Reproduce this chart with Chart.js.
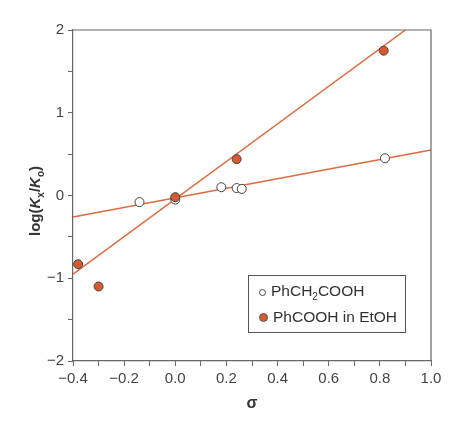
<!DOCTYPE html>
<html>
<head>
<meta charset="utf-8">
<script src="https://cdn.jsdelivr.net/npm/chart.js@4.4.1/dist/chart.umd.min.js"></script>
<style>
  html, body { margin: 0; padding: 0; background: #fff; }
  #wrap { position: relative; width: 455px; height: 427px; font-family: "Liberation Sans", Arial, sans-serif; }
  #yTitle {
    position: absolute; left: 36px; top: 201px;
    transform: translate(-50%, -50%) rotate(-90deg);
    font-weight: bold; font-size: 15px; color: #333; white-space: nowrap;
  }
  #yTitle sub { font-size: 10px; }
  #legend {
    position: absolute; left: 248px; top: 275px; width: 158px; height: 58px;
    border: 1px solid #555; box-sizing: border-box; color: #333; font-size: 15.5px;
  }
  .row { position: absolute; left: 10px; height: 18px; line-height: 18px; white-space: nowrap; }
  .row sub { font-size: 10px; line-height: 0; }
  .dot { display: inline-block; width: 7px; height: 7px; border-radius: 50%; box-sizing: border-box;
         border: 1px solid #444; margin-right: 5px; vertical-align: 0px; }
  .dot.filled { background: #d65a30; border-color: #555; width: 9px; height: 9px; }
</style>
</head>
<body>
<div id="wrap">
  <canvas id="hammettChart" width="455" height="427"></canvas>
  <div id="yTitle">log(<i>K</i><sub>x</sub>/<i>K</i><sub>o</sub>)</div>
  <div id="legend">
    <div class="row" style="top:6px"><span class="dot"></span>PhCH<sub>2</sub>COOH</div>
    <div class="row" style="top:32px"><span class="dot filled"></span>PhCOOH in EtOH</div>
  </div>
</div>
<script>
// Data
const acetSigma = [-0.14, 0.00, 0.18, 0.24, 0.26, 0.82];
const acetLogK = [-0.08, -0.05, 0.10, 0.09, 0.08, 0.45];
const benzSigma = [-0.38, -0.30, 0.00, 0.24, 0.815];
const benzLogK = [-0.83, -1.10, -0.02, 0.44, 1.75];

// Fitted lines (end points)
const acetFitX = [-0.4, 1.0];
const acetFitY = [-0.26, 0.55];
const benzFitX = [-0.4, 0.9];
const benzFitY = [-0.95, 2.0];

// Axis ticks
const xTicks = [-0.4, -0.3, -0.2, -0.1, 0, 0.1, 0.2, 0.3, 0.4, 0.5, 0.6, 0.7, 0.8, 0.9, 1.0];
const xTickLabels = ['\u22120.4', '', '\u22120.2', '', '0.0', '', '0.2', '', '0.4', '', '0.6', '', '0.8', '', '1.0'];
const yTicks = [-2, -1.5, -1, -0.5, 0, 0.5, 1, 1.5, 2];
const yTickLabels = ['\u22122', '', '\u22121', '', '0', '', '1', '', '2'];

function toPoints(xs, ys) {
    return xs.map((x, i) => ({ x: x, y: ys[i] }));
}

// Draw the top and right edges of the plot box
const framePlugin = {
    id: 'frame',
    afterDraw(chart) {
        const a = chart.chartArea;
        const ctx = chart.ctx;
        ctx.save();
        ctx.strokeStyle = '#666';
        ctx.lineWidth = 1.2;
        ctx.beginPath();
        ctx.moveTo(a.left, a.top);
        ctx.lineTo(a.right, a.top);
        ctx.lineTo(a.right, a.bottom);
        ctx.stroke();
        ctx.restore();
    }
};

document.addEventListener('DOMContentLoaded', function() {
    const ctx = document.getElementById('hammettChart').getContext('2d');
    window.hammettChart = new Chart(ctx, {
        type: 'scatter',
        data: {
            datasets: [{
                label: 'PhCOOH in EtOH',
                data: toPoints(benzSigma, benzLogK),
                backgroundColor: '#d65a30',
                borderColor: '#444',
                borderWidth: 1,
                pointRadius: 4.5
            }, {
                label: 'PhCH2COOH',
                data: toPoints(acetSigma, acetLogK),
                backgroundColor: '#fff',
                borderColor: '#444',
                borderWidth: 1,
                pointRadius: 4.5
            }, {
                label: 'fit PhCOOH',
                data: toPoints(benzFitX, benzFitY),
                showLine: true,
                borderColor: '#dc6a3f',
                borderWidth: 1.5,
                pointRadius: 0
            }, {
                label: 'fit PhCH2COOH',
                data: toPoints(acetFitX, acetFitY),
                showLine: true,
                borderColor: '#dc6a3f',
                borderWidth: 1.5,
                pointRadius: 0
            }]
        },
        options: {
            responsive: false,
            animation: false,
            layout: { padding: { top: 30, right: 24, left: 0, bottom: 0 } },
            plugins: {
                legend: { display: false },
                tooltip: { enabled: false }
            },
            scales: {
                x: {
                    type: 'linear',
                    min: -0.4,
                    max: 1.0,
                    afterBuildTicks: s => { s.ticks = xTicks.map(v => ({ value: v })); },
                    afterFit: s => { s.height = 66; },
                    ticks: {
                        autoSkip: false,
                        maxRotation: 0,
                        padding: 4,
                        color: '#444',
                        font: { family: '"Liberation Sans", Arial, sans-serif', size: 15 },
                        callback: (v, i) => xTickLabels[i]
                    },
                    grid: { drawOnChartArea: false, tickLength: 5, tickColor: '#666' },
                    border: { color: '#666', width: 1.2 },
                    title: {
                        display: true,
                        text: '\u03c3',
                        color: '#333',
                        font: { family: '"Liberation Sans", Arial, sans-serif', size: 16, weight: 'bold' },
                        padding: { top: 0, bottom: 14 }
                    }
                },
                y: {
                    type: 'linear',
                    min: -2,
                    max: 2,
                    afterBuildTicks: s => { s.ticks = yTicks.map(v => ({ value: v })); },
                    afterFit: s => { s.width = 73; },
                    ticks: {
                        autoSkip: false,
                        padding: 4,
                        color: '#444',
                        font: { family: '"Liberation Sans", Arial, sans-serif', size: 15 },
                        callback: (v, i) => yTickLabels[i]
                    },
                    grid: { drawOnChartArea: false, tickLength: 5, tickColor: '#666' },
                    border: { color: '#666', width: 1.2 }
                }
            }
        },
        plugins: [framePlugin]
    });
});
</script>
</body>
</html>
